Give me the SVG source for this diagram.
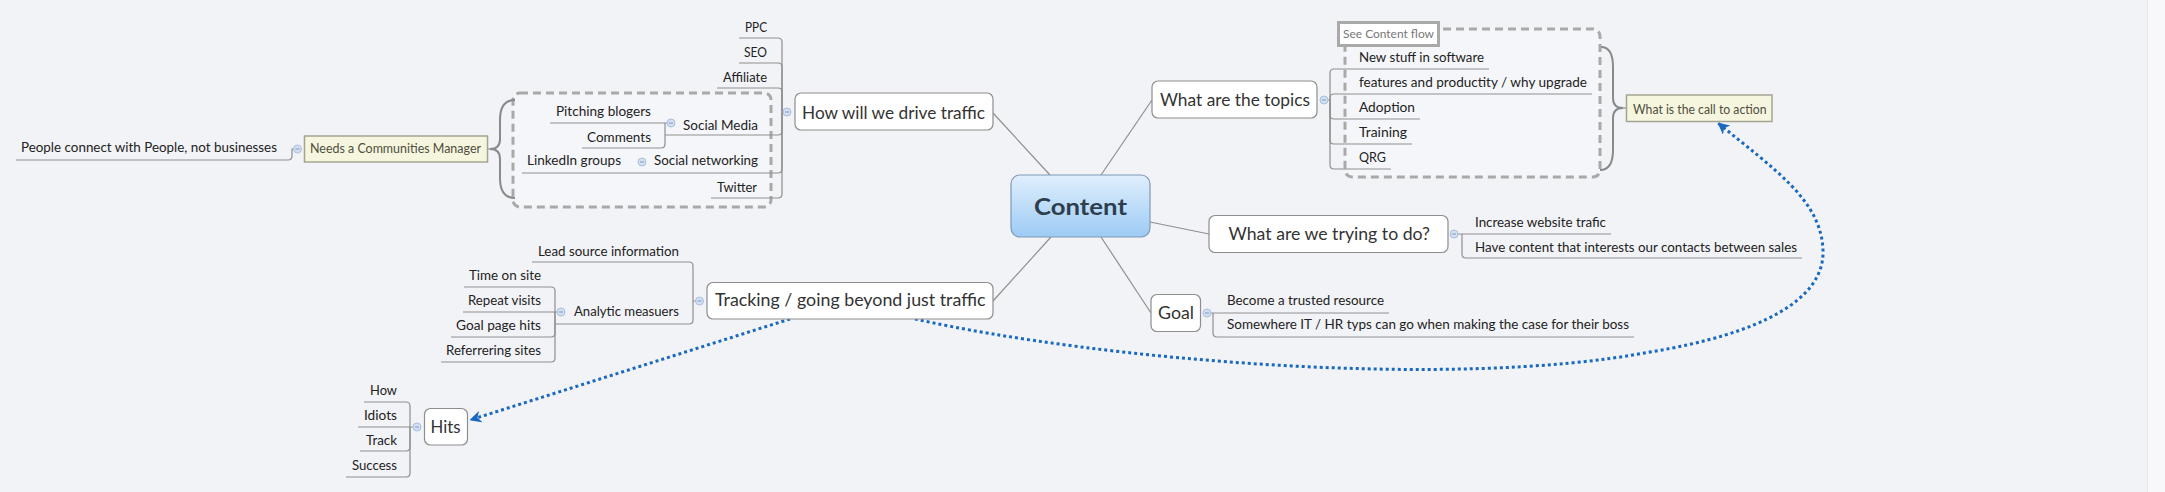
<svg xmlns="http://www.w3.org/2000/svg" width="2165" height="492" viewBox="0 0 2165 492">
<style>
text{font-family:Lato,"Noto Sans","Liberation Sans",sans-serif;fill:#222}
.t{font-size:13px}
.m{font-size:18px;fill:#333}
.c{font-size:12.5px;fill:#4e4e3e}
.box{fill:#fff;stroke:#8e8e8e;stroke-width:1.2}
.call{fill:#f6f6df;stroke:#a4a491;stroke-width:1.5}
.ln{fill:none;stroke:#8f8f8f;stroke-width:1.2}
.br{fill:none;stroke:#8a8a8a;stroke-width:2}
.bd{fill:#fff;fill-opacity:0.25;stroke:#a9a9a9;stroke-width:3;stroke-dasharray:8 5}
.rel{fill:none;stroke:#1a69c0;stroke-width:3;stroke-dasharray:3 3}
.col circle{fill:#d3e0f1;stroke:#a9bfdd;stroke-width:1}
.col path{stroke:#7f9cc8;stroke-width:1}
</style>
<defs>
<linearGradient id="cg" x1="0" y1="0" x2="0" y2="1">
<stop offset="0" stop-color="#e0effd"/>
<stop offset="1" stop-color="#9ccbf4"/>
</linearGradient>
<marker id="arr" viewBox="0 0 10 10" refX="9.5" refY="5" markerWidth="4" markerHeight="4" orient="auto" markerUnits="strokeWidth">
<path d="M0,0 L10,5 L0,10 L3,5 z" fill="#1a69c0"/>
</marker>
</defs>
<rect width="2165" height="492" fill="#f2f3f7"/>
<rect x="2148" y="0" width="17" height="492" fill="#f8f8fb"/>
<line x1="2147.5" y1="0" x2="2147.5" y2="492" stroke="#e8e8ee"/>

<!-- boundaries -->
<g id="boundary-drive">
<rect class="bd" x="513" y="93" width="258" height="114" rx="7"/>
<path class="br" d="M515,100 Q500,100 500,120 L500,139 Q500,149 490,149 Q500,149 500,159 L500,178 Q500,198 515,198"/>
<line class="ln" x1="487" y1="149" x2="491" y2="149"/>
</g>
<g id="boundary-topics">
<rect class="bd" x="1345" y="29" width="255" height="148" rx="7"/>
<path class="br" d="M1601,47 Q1613,47 1613,67 L1613,98 Q1613,108 1623,108 Q1613,108 1613,118 L1613,150 Q1613,170 1600,170"/>
<line class="ln" x1="1622" y1="108" x2="1627" y2="108"/>
<rect x="1338.5" y="22.5" width="100" height="23" fill="#fff" stroke="#a9a9a9" stroke-width="3"/>
<text x="1343" y="38" style="font-size:12px;fill:#777" textLength="91" lengthAdjust="spacingAndGlyphs">See Content flow</text>
</g>

<!-- connectors -->
<g id="connectors">
<line class="ln" x1="993" y1="113" x2="1050" y2="175"/>
<line class="ln" x1="1101" y1="175" x2="1152" y2="100"/>
<line class="ln" x1="1150" y1="222" x2="1209" y2="234"/>
<line class="ln" x1="1101" y1="237" x2="1151" y2="313"/>
<line class="ln" x1="1051" y1="237" x2="993" y2="301"/>

<path class="ln" d="M787,112 H782 V42 Q782,38 778,38 H739"/>
<path class="ln" d="M782,112 V67 Q782,63 778,63 H739"/>
<path class="ln" d="M782,112 V92 Q782,88 778,88 H717"/>
<path class="ln" d="M782,112 V131 Q782,135 778,135 H665"/>
<path class="ln" d="M782,112 V169 Q782,173 778,173 H522"/>
<path class="ln" d="M782,112 V194 Q782,198 778,198 H711"/>
<path class="ln" d="M671,123 H550"/>
<path class="ln" d="M665,123 V144 Q665,148 661,148 H582"/>

<path class="ln" d="M699,301 H693 V266 Q693,262 689,262 H532"/>
<path class="ln" d="M693,301 V320 Q693,324 689,324 H555"/>
<path class="ln" d="M561,312 H555 V291 Q555,287 551,287 H464"/>
<path class="ln" d="M555,312 H463"/>
<path class="ln" d="M555,312 V333 Q555,337 551,337 H451"/>
<path class="ln" d="M555,312 V358 Q555,362 551,362 H441"/>

<path class="ln" d="M417,427 H410 V406 Q410,402 406,402 H364"/>
<path class="ln" d="M410,427 H358"/>
<path class="ln" d="M410,427 V447 Q410,451 406,451 H360"/>
<path class="ln" d="M410,427 V473 Q410,477 406,477 H346"/>

<path class="ln" d="M1324,100 H1330 V73 Q1330,69 1334,69 H1489"/>
<path class="ln" d="M1330,100 V98 Q1330,94 1334,94 H1592"/>
<path class="ln" d="M1330,100 V115 Q1330,119 1334,119 H1420"/>
<path class="ln" d="M1330,100 V140 Q1330,144 1334,144 H1412"/>
<path class="ln" d="M1330,100 V165 Q1330,169 1334,169 H1391"/>

<path class="ln" d="M1454,234 H1611"/>
<path class="ln" d="M1462,234 V254 Q1462,258 1466,258 H1802"/>
<path class="ln" d="M1207,313 H1389"/>
<path class="ln" d="M1213,313 V333 Q1213,337 1217,337 H1634"/>

<path class="ln" d="M16,160 H288 Q292,160 292,156 V149 H297"/>

<path class="rel" d="M790,319 L470,420" marker-end="url(#arr)"/>
<path class="rel" d="M915,319 C1100,360 1450,390 1650,352 C1760,334 1825,300 1823,250 C1821,200 1775,170 1718,123" marker-end="url(#arr)"/>
</g>

<!-- collapse markers -->
<g class="col">
<circle cx="787" cy="112" r="4"/><path d="M785,112 H789"/>
<circle cx="671" cy="123" r="4"/><path d="M669,123 H673"/>
<circle cx="642" cy="162" r="4"/><path d="M640,162 H644"/>
<circle cx="699.5" cy="301" r="4"/><path d="M697.5,301 H701.5"/>
<circle cx="561" cy="312" r="4"/><path d="M559,312 H563"/>
<circle cx="417" cy="427" r="4"/><path d="M415,427 H419"/>
<circle cx="297.5" cy="149" r="4"/><path d="M295.5,149 H299.5"/>
<circle cx="1324" cy="100" r="4"/><path d="M1322,100 H1326"/>
<circle cx="1454" cy="234" r="4"/><path d="M1452,234 H1456"/>
<circle cx="1207" cy="313" r="4"/><path d="M1205,313 H1209"/>
</g>

<!-- central -->
<g id="content">
<rect x="1011" y="175" width="139" height="62" rx="9" fill="url(#cg)" stroke="#7e9ab5" stroke-width="1.2"/>
<text x="1080.5" y="215" text-anchor="middle" style="font-size:23px;font-weight:bold;fill:#2e3e4e" textLength="93" lengthAdjust="spacingAndGlyphs">Content</text>
</g>

<g id="drive">
<rect class="box" x="795" y="93" width="198" height="37" rx="6"/>
<text class="m" x="802" y="118.5" textLength="183" lengthAdjust="spacingAndGlyphs">How will we drive traffic</text>
</g>
<g id="ppc"><text class="t" x="767" y="32" text-anchor="end" textLength="22" lengthAdjust="spacingAndGlyphs">PPC</text></g>
<g id="seo"><text class="t" x="767" y="57" text-anchor="end" textLength="23" lengthAdjust="spacingAndGlyphs">SEO</text></g>
<g id="affiliate"><text class="t" x="767" y="82" text-anchor="end" textLength="44" lengthAdjust="spacingAndGlyphs">Affiliate</text></g>
<g id="social-media"><text class="t" x="758" y="129.5" text-anchor="end" textLength="75" lengthAdjust="spacingAndGlyphs">Social Media</text></g>
<g id="pitching"><text class="t" x="651" y="116" text-anchor="end" textLength="95" lengthAdjust="spacingAndGlyphs">Pitching blogers</text></g>
<g id="comments"><text class="t" x="651" y="142" text-anchor="end" textLength="64" lengthAdjust="spacingAndGlyphs">Comments</text></g>
<g id="social-networking"><text class="t" x="758" y="165" text-anchor="end" textLength="104" lengthAdjust="spacingAndGlyphs">Social networking</text></g>
<g id="linkedin"><text class="t" x="621" y="165" text-anchor="end" textLength="94" lengthAdjust="spacingAndGlyphs">LinkedIn groups</text></g>
<g id="twitter"><text class="t" x="757" y="192" text-anchor="end" textLength="40" lengthAdjust="spacingAndGlyphs">Twitter</text></g>

<g id="needs">
<rect class="call" x="304.5" y="136" width="183" height="26"/>
<text class="c" x="310" y="153" textLength="171" lengthAdjust="spacingAndGlyphs">Needs a Communities Manager</text>
</g>
<g id="people"><text x="21" y="152" style="font-size:13.5px" textLength="256" lengthAdjust="spacingAndGlyphs">People connect with People, not businesses</text></g>

<g id="topics">
<rect class="box" x="1152" y="81" width="165" height="37" rx="6"/>
<text class="m" x="1160" y="105.5" textLength="150" lengthAdjust="spacingAndGlyphs">What are the topics</text>
</g>
<g id="new-stuff"><text class="t" x="1359" y="62" textLength="125" lengthAdjust="spacingAndGlyphs">New stuff in software</text></g>
<g id="features"><text class="t" x="1359" y="87" textLength="228" lengthAdjust="spacingAndGlyphs">features and productity / why upgrade</text></g>
<g id="adoption"><text class="t" x="1359" y="112" textLength="56" lengthAdjust="spacingAndGlyphs">Adoption</text></g>
<g id="training"><text class="t" x="1359" y="136.5" textLength="48" lengthAdjust="spacingAndGlyphs">Training</text></g>
<g id="qrg"><text class="t" x="1359" y="161.5" textLength="27" lengthAdjust="spacingAndGlyphs">QRG</text></g>

<g id="call-to-action">
<rect class="call" x="1626.5" y="95" width="145.5" height="26.5"/>
<text class="c" x="1633" y="113.5" textLength="133.5" lengthAdjust="spacingAndGlyphs">What is the call to action</text>
</g>

<g id="trying">
<rect class="box" x="1209" y="215.5" width="239" height="37" rx="6"/>
<text class="m" x="1228.5" y="239.5" textLength="201.5" lengthAdjust="spacingAndGlyphs">What are we trying to do?</text>
</g>
<g id="increase"><text class="t" x="1475" y="227" textLength="131" lengthAdjust="spacingAndGlyphs">Increase website trafic</text></g>
<g id="have-content"><text class="t" x="1475" y="252" textLength="322" lengthAdjust="spacingAndGlyphs">Have content that interests our contacts between sales</text></g>

<g id="goal">
<rect class="box" x="1151" y="294.5" width="49.5" height="37" rx="6"/>
<text class="m" x="1158" y="319" textLength="36" lengthAdjust="spacingAndGlyphs">Goal</text>
</g>
<g id="trusted"><text class="t" x="1227" y="305" textLength="157" lengthAdjust="spacingAndGlyphs">Become a trusted resource</text></g>
<g id="somewhere"><text class="t" x="1227" y="328.5" textLength="402" lengthAdjust="spacingAndGlyphs">Somewhere IT / HR typs can go when making the case for their boss</text></g>

<g id="tracking">
<rect class="box" x="707" y="282.5" width="286" height="36.5" rx="6"/>
<text class="m" x="715" y="306" textLength="270.5" lengthAdjust="spacingAndGlyphs">Tracking / going beyond just traffic</text>
</g>
<g id="lead-source"><text class="t" x="679" y="256" text-anchor="end" textLength="141" lengthAdjust="spacingAndGlyphs">Lead source information</text></g>
<g id="analytic"><text class="t" x="679" y="316" text-anchor="end" textLength="105" lengthAdjust="spacingAndGlyphs">Analytic measuers</text></g>
<g id="time-on-site"><text class="t" x="541" y="280" text-anchor="end" textLength="72" lengthAdjust="spacingAndGlyphs">Time on site</text></g>
<g id="repeat"><text class="t" x="541" y="304.5" text-anchor="end" textLength="73" lengthAdjust="spacingAndGlyphs">Repeat visits</text></g>
<g id="goal-page"><text class="t" x="541" y="329.5" text-anchor="end" textLength="85" lengthAdjust="spacingAndGlyphs">Goal page hits</text></g>
<g id="referrering"><text class="t" x="541" y="354.5" text-anchor="end" textLength="95" lengthAdjust="spacingAndGlyphs">Referrering sites</text></g>

<g id="hits">
<rect class="box" x="424.5" y="408.5" width="43" height="36.5" rx="6"/>
<text class="m" x="430.5" y="433" textLength="30" lengthAdjust="spacingAndGlyphs">Hits</text>
</g>
<g id="how"><text class="t" x="397" y="394.5" text-anchor="end" textLength="27" lengthAdjust="spacingAndGlyphs">How</text></g>
<g id="idiots"><text class="t" x="397" y="419.5" text-anchor="end" textLength="33" lengthAdjust="spacingAndGlyphs">Idiots</text></g>
<g id="track"><text class="t" x="397" y="444.5" text-anchor="end" textLength="31" lengthAdjust="spacingAndGlyphs">Track</text></g>
<g id="success"><text class="t" x="397" y="469.5" text-anchor="end" textLength="45" lengthAdjust="spacingAndGlyphs">Success</text></g>
</svg>
